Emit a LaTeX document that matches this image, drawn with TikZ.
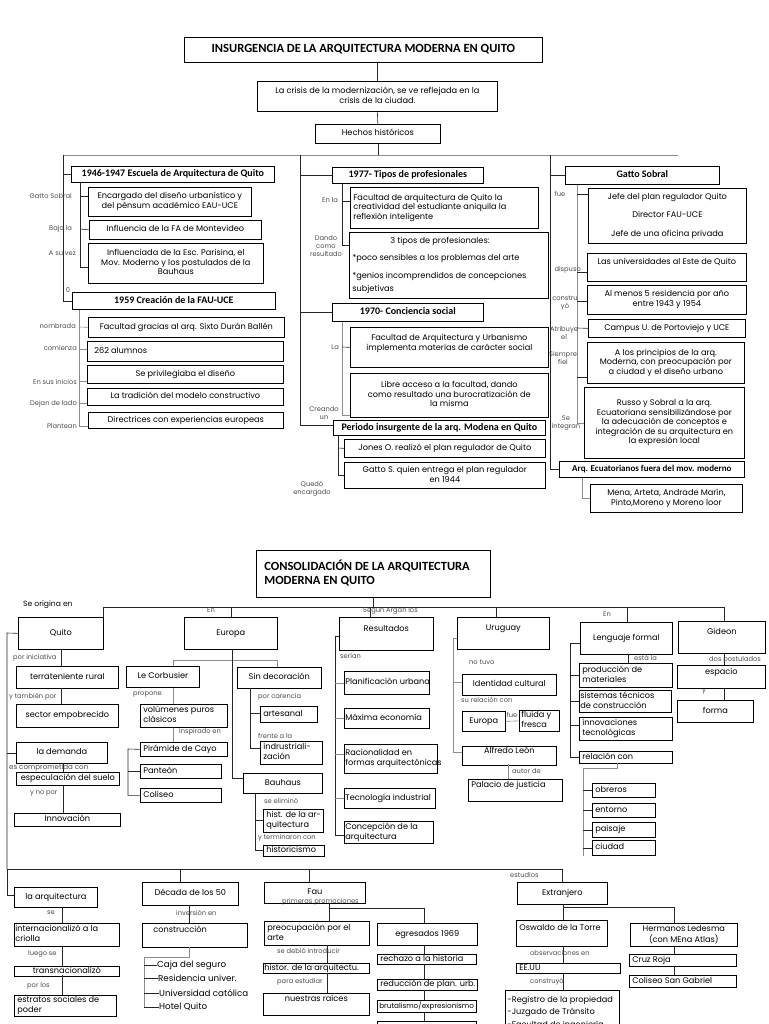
\documentclass[tikz,border=0pt]{standalone}
\usepackage{fontspec}
\setmainfont{Poppins}
\newfontfamily\tfont{Carlito}
\usetikzlibrary{calc}
\NewDocumentCommand\bx{O{}mmmmmm}{\pgfmathsetmacro\bxw{#5-#3-6}\pgfmathsetmacro\bxh{#6-#4}%
\node[box,anchor=north west,minimum height=\bxh pt,#1] (#2) at (#3,#4) {\makebox[\bxw pt][c]{\begin{tabular}{@{}c@{}}#7\end{tabular}}};}
\NewDocumentCommand\bxl{O{}O{3}mmmmmm}{\pgfmathsetmacro\bxw{#6-#4-2*#2}\pgfmathsetmacro\bxh{#7-#5}%
\node[box,inner xsep=#2pt,anchor=north west,minimum height=\bxh pt,#1] (#3) at (#4,#5) {\makebox[\bxw pt][l]{\begin{tabular}{@{}l@{}}#8\end{tabular}}};}
\begin{document}
\begin{tikzpicture}[x=1pt,y=-1pt,
 box/.style={draw=black,line width=.7pt,fill=white,inner xsep=3pt,inner ysep=0.3pt,font=\fontsize{8.2}{9.6}\selectfont},
 bbox/.style={font=\tfont\bfseries\fontsize{10}{11}\selectfont},
 tbox/.style={font=\tfont\bfseries\fontsize{12.5}{14}\selectfont},
 lbl/.style={font=\fontsize{6.7}{7.6}\selectfont,inner sep=0pt,text=black!70,align=center},
 item/.style={font=\fontsize{8.7}{10}\selectfont,inner sep=0pt},
 cn/.style={line width=.6pt,black!85},
 gl/.style={line width=.6pt,black!45}]
\useasboundingbox (0,0) rectangle (768,1024);
\clip (0,0) rectangle (768,1024);
% ================= TOP =================
\coordinate (h0) at (63,155); \coordinate (h1) at (678,155);
\coordinate (m0) at (300,155); \coordinate (r0) at (550,155);
\draw[gl] (h0) -- (h1);
\draw[cn] (m0) -- (300,425) -- (333,425);
\draw[cn] (h0) -- (63,301) -- (72,301);
\draw[cn] (r0) -- (550,469) -- (559,469);
% inner trunks
\draw[cn] (80,182) -- (80,267) -- (88,267);
\draw[gl] (79,309) -- (79,426) -- (88,426);
\draw[cn] (342,183) -- (342,245) -- (349,245);
\draw[gl] (342,321) -- (342,415) -- (350,415);
\draw[cn] (338,435) -- (338,475) -- (344,475);
\draw[gl] (577,184) -- (577,423) -- (584,423);
\draw[gl] (582,477) -- (582,498) -- (590,498);

\bx[tbox]{t1}{184}{37}{542}{62}{INSURGENCIA DE LA ARQUITECTURA MODERNA EN QUITO}
\bx{crisis}{257}{81}{497}{111}{La crisis de la modernización, se ve reflejada en la\\crisis de la ciudad.}
\bx{hechos}{315}{124}{440}{143}{Hechos históricos}
\draw[cn] (crisis.north) -- (crisis.north |- t1.south);
\draw[cn] (crisis.south) -- (hechos.north);
\draw[cn] (hechos.south) -- (hechos.south |- h0);

% column 1
\bx[bbox]{e46}{71}{166}{274}{182}{1946-1947 Escuela de Arquitectura de Quito}
\bx{enc}{88}{187}{251}{216}{Encargado del diseño urbanístico y\\del pénsum académico EAU-UCE}
\bx{inf}{89}{220}{261}{239}{Influencia de la FA de Montevideo}
\bx{par}{88}{243}{263}{283}{Influenciada de la Esc. Parisina, el\\Mov. Moderno y los postulados de la\\Bauhaus}
\bx[bbox]{f59}{72}{292}{275}{309}{1959 Creación de la FAU-UCE}
\draw[cn] (h0 |- e46.west) -- (e46.west);
\draw[cn] (80,196) -- (enc.west |- 0,196);
\draw[cn] (80,229) -- (inf.west);
\bx{fac}{88}{317}{284}{337}{Facultad gracias al arq. Sixto Durán Ballén}
\bxl{alu}{87}{341}{283}{361}{\hspace*{4pt}262 alumnos}
\bx{pri}{87}{365}{283}{383}{Se privilegiaba el diseño}
\bx{tra}{87}{388}{283}{405}{La tradición del modelo constructivo}
\bx{dir}{88}{412}{283}{428}{Directrices con experiencias europeas}
\draw[gl] (79,327) -- (fac.west);
\draw[gl] (79,349) -- (alu.west |- 0,349);
\draw[gl] (79,381) -- (pri.west |- 0,381);
\draw[gl] (79,403) -- (tra.west |- 0,403);
\node[lbl,anchor=east] (l1) at (72,196) {Gatto Sobral};
\node[lbl,anchor=east] (l2) at (72,229) {Bajo la};
\node[lbl,anchor=east] (l3) at (76,253) {A su vez};
\node[lbl] (l4) at (68,290) {0};
\node[lbl,anchor=east] (l5) at (76,326) {nombrada};
\node[lbl,anchor=east] (l6) at (77,348) {comienza};
\node[lbl,anchor=east] (l7) at (77,382) {En sus inicios};
\node[lbl,anchor=east] (l8) at (77,404) {Dejan de lado};
\node[lbl,anchor=east] (l9) at (77,426) {Plantean};

% column 2
\bx[bbox]{t77}{332}{167}{483}{183}{1977- Tipos de profesionales}
\bxl{fq}{350}{187}{538}{228}{Facultad de arquitectura de Quito la\\creatividad del estudiante aniquila la\\reflexión inteligente}
\bxl{tp}{349}{232}{548}{298}{\hspace*{38pt}3 tipos de profesionales:\\[8pt]*poco sensibles a los problemas del arte\\[8pt]*genios incomprendidos de concepciones\\[3pt]subjetivas}
\bx[bbox]{t70}{332}{303}{483}{321}{1970- Conciencia social}
\bx{fau}{350}{327}{548}{367}{Facultad de Arquitectura y Urbanismo\\implementa materias de carácter social\\[-2pt]\mbox{}}
\bx{lib}{350}{373}{548}{417}{Libre acceso a la facultad, dando\\como resultado una burocratización de\\la misma}
\bx[bbox]{per}{333}{420}{545}{435}{Periodo insurgente de la arq. Modena en Quito}
\bx{jon}{344}{439}{545}{457}{Jones O. realizó el plan regulador de Quito}
\bx{gat}{344}{462}{545}{488}{Gatto S. quien entrega el plan regulador\\en 1944}
\draw[cn] (m0 |- t77.west) -- (t77.west);
\draw[cn] (m0 |- t70.west) -- (t70.west);
\draw[cn] (342,201) -- (fq.west |- 0,201);
\draw[cn] (342,347) -- (fau.west);
\draw[cn] (338,448) -- (jon.west);
\node[lbl,anchor=east] (l10) at (338,200) {En la};
\node[lbl] (l11) at (326,246) {Dando\\como\\resultado};
\node[lbl,anchor=east] (l12) at (339,347) {La};
\node[lbl] (l13) at (324,413) {Creando\\un};
\node[lbl] (l14) at (312,489) {Quedó\\encargado};

% column 3
\bx[bbox]{gs}{565}{166}{719}{184}{Gatto Sobral}
\bx{jef}{588}{188}{746}{243}{Jefe del plan regulador Quito\\[9pt]Director FAU-UCE\\[9pt]Jefe de una oficina privada}
\bx{uni}{587}{253}{746}{281}{Las universidades al Este de Quito\\[-1pt]\mbox{}}
\bx{res}{587}{285}{746}{314}{Al menos 5 residencia por año\\entre 1943 y 1954}
\bx{cam}{588}{319}{745}{337}{Campus U. de Portoviejo y UCE}
\bx{pri2}{587}{342}{744}{383}{A los principios de la arq.\\Moderna, con preocupación por\\a ciudad y el diseño urbano}
\bx{rus}{584}{387}{744}{458}{Russo y Sobral a la arq.\\Ecuatoriana sensibilizándose por\\la adecuación de conceptos e\\integración de su arquitectura en\\la expresión local}
\bx[bbox,font=\tfont\bfseries\fontsize{9}{10}\selectfont]{arq}{559}{461}{744}{477}{Arq. Ecuatorianos fuera del mov. moderno}
\bx{men}{590}{484}{742}{512}{Mena, Arteta, Andrade Marín,\\Pinto,Moreno y Moreno loor}
\draw[cn] (r0 |- gs.west) -- (gs.west);
\draw[cn] (577,194) -- (jef.west |- 0,194);
\draw[cn] (577,272) -- (uni.west |- 0,272);
\draw[cn] (577,301) -- (res.west |- 0,301);
\draw[cn] (577,328) -- (cam.west);
\draw[cn] (577,377) -- (pri2.west |- 0,377);
\node[lbl] (l15) at (560,194) {fue};
\node[lbl,anchor=east] (l16) at (581,270) {dispuso};
\node[lbl] (l17) at (565,303) {constru\\yó};
\node[lbl] (l18) at (564,333) {Atribuye\\el};
\node[lbl] (l19) at (563,358) {Siempre\\fiel};
\node[lbl] (l20) at (566,423) {Se\\integran};

% ================= BOTTOM =================
\bxl[tbox,font=\tfont\bfseries\fontsize{12.5}{14}\selectfont][8]{t2}{256}{550}{490}{597}{CONSOLIDACIÓN DE LA ARQUITECTURA\\MODERNA EN QUITO}
\coordinate (b0) at (103,607); \coordinate (b1) at (724,607);
\draw[cn] (b0) -- (b1);
\draw[cn] (t2.south) -- (t2.south |- b0);
\coordinate (d1) at (231,607); \coordinate (d3) at (370,607);
\coordinate (d4) at (496,607); \coordinate (d5) at (627,607);
\draw[cn] (b0) -- (103,617);
\draw[cn] (d1) -- (231,617);
\draw[cn] (d3) -- (370,617);
\draw[cn] (d4) -- (496,617);
\draw[cn] (d5) -- (627,622);
\draw[cn] (b1) -- (724,621);
\node[lbl,anchor=west,text=black,font=\fontsize{7.6}{8.6}\selectfont] (m1) at (23,605) {Se origina en};
\node[lbl,anchor=west] (m2) at (207,610) {En};
\node[lbl,anchor=west] (m3) at (363,611) {Según Argan los};
\node[lbl,anchor=west] (m4) at (603,614) {En};

\bx{qui}{18}{617}{103}{649}{Quito}
\bx{eur}{184}{617}{277}{649}{Europa}
\bx{resu}{339}{617}{433}{650}{Resultados\\[-1pt]\mbox{}}
\bx{uru}{457}{617}{549}{649}{Uruguay\\[-1pt]\mbox{}}
\bx{len}{580}{622}{672}{654}{Lenguaje formal}
\bx{gid}{678}{621}{765}{653}{Gideon\\[-1pt]\mbox{}}

% Quito branch
\coordinate (qx) at (7,633);
\draw[cn] (qui.west) -- (qx) -- (7,869);
\bx{ter}{16}{666}{118}{688}{terrateniente rural}
\bx{sec}{16}{704}{118}{727}{sector empobrecido}
\bx{dem}{16}{742}{107}{763}{la demanda}
\bx{esp}{16}{772}{119}{785}{especulación del suelo}
\bx{inn}{14}{813}{120}{826}{Innovación}
\draw[cn] (qx |- dem.west) -- (dem.west);
\draw[cn] (61,649) -- (61,666);
\draw[cn] (61,688) -- (61,704);
\draw[cn] (63,763) -- (63,772);
\draw[cn] (63,785) -- (63,813);
\node[lbl,anchor=west] (q1) at (13,658) {por iniciativa};
\node[lbl,anchor=west] (q2) at (9,697) {y también por};
\node[lbl,anchor=west,font=\fontsize{7.1}{8}\selectfont] (q3) at (9,768) {es comprometida con};
\node[lbl,anchor=west] (q4) at (30,793) {y no por};

% Europa branch
\coordinate (e1) at (173,660); \coordinate (e2) at (277,660);
\draw[gl] (e1) -- (e2);
\draw[cn] (232,649) -- (232,778) -- (243,778);
\bx{lec}{126}{666}{199}{687}{Le Corbusier}
\bxl{vol}{140}{704}{227}{727}{volúmenes puros\\clásicos}
\bxl{pir}{140}{742}{227}{756}{Pirámide de Cayo}
\bxl{pan}{140}{764}{221}{778}{Panteón}
\bxl{col}{140}{788}{221}{802}{Coliseo}
\draw[gl] (e1) -- (e1 |- lec.north);
\draw[gl] (e1 |- lec.south) -- (e1 |- vol.north);
\draw[gl] (e1 |- vol.south) -- (e1 |- pir.north);
\coordinate (pl1) at (128,749);
\draw[cn] (pir.west) -- (pl1) |- (col.west);
\draw[cn] (pl1 |- pan.west) -- (pan.west);
\node[lbl,anchor=west] (eu1) at (133,694) {propone};
\node[lbl,anchor=west] (eu2) at (179,732) {Inspirado en};

\bx{sin}{237}{667}{321}{688}{Sin decoración}
\bxl{art}{260}{706}{317}{722}{artesanal}
\bxl{ind}{260}{741}{322}{764}{indrustriali-\\zación}
\bx{bau}{243}{773}{322}{793}{Bauhaus}
\bxl{his}{263}{809}{323}{832}{hist. de la ar-\\quitectura}
\bxl{hic}{263}{845}{324}{856}{historicismo}
\draw[gl] (e2) -- (e2 |- sin.north);
\draw[cn] (250,688) -- (250,748) -- (260,748);
\draw[cn] (250,713) -- (art.west |- 0,713);
\draw[cn] (255,793) -- (255,850) -- (263,850);
\draw[cn] (255,820) -- (his.west |- 0,820);
\node[lbl,anchor=west] (eu3) at (258,697) {por carencia};
\node[lbl,anchor=west] (eu4) at (258,736) {frente a la};
\node[lbl,anchor=west] (eu5) at (264,801) {se eliminó};
\node[lbl,anchor=west] (eu6) at (258,838) {y terminaron con};

% Resultados
\bxl[][1]{pla}{344}{671}{429}{694}{Planificación urbana}
\bxl[][1]{max}{344}{708}{429}{728}{Máxima economía}
\bxl[][1]{rac}{344}{744}{437}{773}{Racionalidad en\\formas arquitectónicas}
\bxl[][1]{tec}{344}{788}{435}{808}{Tecnología industrial}
\bxl[][1]{con}{344}{821}{433}{843}{Concepción de la\\arquitectura}
\coordinate (r1) at (335,636);
\draw[cn] (339,636) -- (r1) -- (335,835) -- (344,835);
\draw[gl] (r1 |- pla.west) -- (pla.west);
\draw[gl] (r1 |- max.west) -- (max.west);
\draw[gl] (335,754) -- (rac.west |- 0,754);
\draw[gl] (r1 |- tec.west) -- (tec.west);
\node[lbl,anchor=west] (re1) at (340,656) {serían};

% Uruguay
\coordinate (u1) at (453,638);
\draw[gl] (457,638) -- (u1) -- (453,752) -- (462,752);
\bx{ide}{462}{674}{556}{695}{Identidad cultural}
\bx{euro2}{462}{711}{505}{731}{Europa}
\bxl[][2]{flu}{519}{710}{559}{731}{fluida y\\fresca}
\bx{alf}{462}{746}{556}{764}{Alfredo León\\[-1pt]\mbox{}}
\bxl{pal}{468}{779}{562}{801}{Palacio de justicia\\[-1pt]\mbox{}}
\draw[gl] (453,682) -- (ide.west |- 0,682);
\draw[gl] (euro2.east) -- (flu.west);
\draw[gl] (508,764) -- (508,779);
\node[lbl,anchor=west] (u2) at (469,662) {no tuvo};
\node[lbl,anchor=west] (u3) at (461,700) {su relación con};
\node[lbl] (u4) at (512,715) {fue};
\node[lbl,anchor=west] (u5) at (512,771) {autor de};

% Lenguaje formal
\coordinate (lf1) at (570,643);
\draw[cn] (len.west |- lf1) -- (lf1) -- (570,757) -- (579,757);
\bxl{pro}{579}{663}{672}{687}{producción de\\materiales}
\bxl[][1]{sis}{579}{690}{671}{712}{sistemas técnicos\\de construcción}
\bxl{innt}{579}{717}{672}{740}{innovaciones\\tecnológicas}
\bxl{rel}{579}{751}{672}{763}{relación con}
\draw[cn] (lf1 |- pro.west) -- (pro.west);
\draw[cn] (lf1 |- sis.west) -- (sis.west);
\draw[cn] (570,725) -- (innt.west |- 0,725);
\draw[cn] (628,654) -- (628,663);
\node[lbl,anchor=west] (lf2) at (634,658) {está la};
\coordinate (rl1) at (617,768); \coordinate (rl2) at (583,768);
\draw[gl] (617,763) -- (rl1) -- (rl2) -- (583,856);
\bxl{obr}{592}{783}{655}{797}{obreros}
\bxl{ent}{592}{803}{655}{817}{entorno}
\bxl{pai}{592}{822}{655}{837}{paisaje}
\bxl{ciu}{592}{840}{655}{855}{ciudad}
\draw[cn] (rl2 |- obr.west) -- (obr.west);
\draw[cn] (rl2 |- ent.west) -- (ent.west);
\draw[cn] (rl2 |- pai.west) -- (pai.west);
\draw[cn] (rl2 |- ciu.west) -- (ciu.west);

% Gideon
\bx{espa}{677}{665}{765}{688}{espacio\\[-1pt]\mbox{}}
\bx{for}{677}{700}{753}{722}{forma}
\coordinate (g1) at (724,653);
\draw[cn] (g1) -- (g1 |- espa.north);
\draw[cn] (g1 |- espa.south) -- (g1 |- for.north);
\node[lbl,anchor=west] (g2) at (709,660) {dos postulados};
\node[lbl] (g3) at (704,692) {y};

% ===== bottom row =====
\coordinate (bb0) at (7,869); \coordinate (bb1) at (562,869);
\draw[cn] (bb0) -- (bb1);
\draw[cn] (bb0) -- (7,895) -- (14,895);
\draw[cn] (180,869) -- (180,882);
\draw[cn] (309,869) -- (309,882);
\draw[cn] (bb1) -- (562,882);

\bx{arqb}{14}{887}{97}{907}{la arquitectura}
\bxl[][1]{int}{14}{923}{119}{946}{internacionalizó a la\\criolla}
\bx{trn}{14}{966}{119}{975}{transnacionalizó}
\bxl{est}{14}{995}{116}{1016}{estratos sociales de\\poder}
\draw[cn] (62,907) -- (62,923);
\draw[cn] (62,946) -- (62,966);
\draw[cn] (62,975) -- (62,995);
\node[lbl] (a1) at (51,913) {se};
\node[lbl,anchor=west] (a2) at (28,954) {luego se};
\node[lbl,anchor=west] (a3) at (27,986) {por los};

\bx{dec}{142}{882}{238}{905}{Década de los 50}
\bxl{cons}{142}{923}{247}{947}{\hspace*{8pt}construcción\\[-1pt]\mbox{}}
\draw[cn] (189,905) -- (189,923);
\draw[gl] (189,947) -- (189,957) -- (144,957) -- (144,1007);
\node[item,anchor=west] (c1) at (157,965) {Caja del seguro};
\node[item,anchor=west] (c2) at (158,978) {Residencia univer.};
\node[item,anchor=west] (c3) at (159,993) {Universidad católica};
\node[item,anchor=west] (c4) at (159,1007) {Hotel Quito};
\draw[cn] (144,965) -- (c1.west);
\draw[cn] (144,978) -- (c2.west);
\draw[cn] (144,993) -- (c3.west);
\draw[cn] (144,1007) -- (c4.west);
\node[lbl,anchor=west] (c5) at (176,913) {inversión en};

\bx{fau2}{264}{882}{365}{903}{Fau}
\bxl{pre}{264}{921}{369}{945}{preocupación por el\\arte}
\bxl[][1]{hist2}{263}{963}{369}{973}{histor. de la arquitectu.}
\bx{nue}{263}{993}{369}{1015}{nuestras raíces\\[-1pt]\mbox{}}
\bx{egr}{377}{923}{477}{945}{egresados 1969}
\bxl{rec}{377}{954}{476}{964}{rechazo a la historia}
\bxl{red}{377}{979}{477}{990}{reducción de plan. urb.}
\bxl[font=\fontsize{7.2}{8.4}\selectfont][2]{bru}{377}{1000}{476}{1012}{brutalismo/expresionismo}
\bx{fx}{377}{1021}{476}{1040}{}
\draw[cn] (329,903) -- (329,921);
\draw[cn] (329,908) -- (424,908) -- (424,923);
\draw[cn] (327,945) -- (327,963);
\draw[cn] (327,973) -- (327,993);
\draw[cn] (424,945) -- (424,954);
\draw[cn] (424,964) -- (424,979);
\draw[cn] (424,990) -- (424,1000);
\draw[cn] (424,1012) -- (424,1021);
\node[lbl,anchor=west] (f1) at (282,902) {primeras promociones};
\node[lbl,anchor=west] (f2) at (277,951) {se debió introducir};
\node[lbl,anchor=west] (f3) at (277,982) {para estudiar};

\bx{ext}{517}{882}{607}{904}{Extranjero}
\bxl{osw}{516}{920}{607}{946}{Oswaldo de la Torre\\\mbox{}}
\bxl{eeu}{516}{963}{620}{973}{EE.UU}
\bxl[font=\fontsize{8.2}{12.5}\selectfont][2]{reg}{505}{990}{619}{1034}{-Registro de la propiedad\\-Juzgado de Tránsito\\-Facultad de ingeniería}
\bx{her}{630}{923}{737}{946}{Hermanos Ledesma\\(con MEna Atlas)}
\bxl{cru}{629}{954}{736}{966}{Cruz Roja}
\bxl{cols}{629}{975}{736}{987}{Coliseo San Gabriel}
\draw[cn] (563,904) -- (563,920);
\draw[cn] (563,907) -- (674,907) -- (674,923);
\draw[cn] (563,946) -- (563,963);
\draw[cn] (563,973) -- (563,990);
\draw[cn] (674,946) -- (674,954);
\draw[cn] (674,966) -- (674,975);
\node[lbl,anchor=west] (x1) at (510,875) {estudios};
\node[lbl,anchor=west] (x2) at (530,953) {observaciones en};
\node[lbl,anchor=west] (x3) at (530,982) {construyó};
\end{tikzpicture}
\end{document}
